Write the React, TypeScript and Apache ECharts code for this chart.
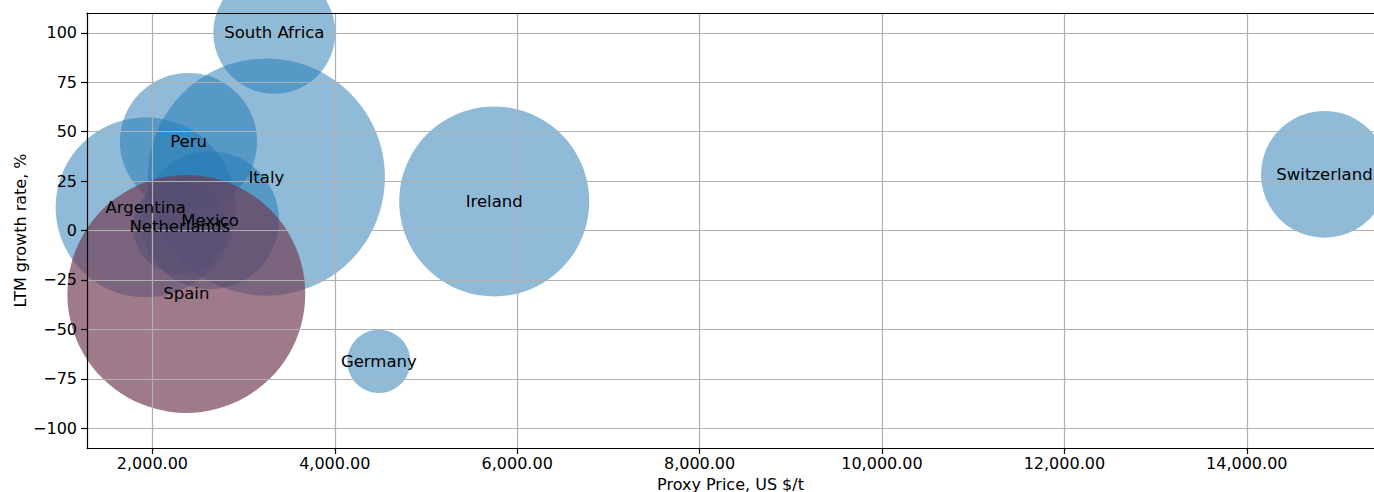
import React, { useEffect, useRef } from "react";
import * as echarts from "echarts";

const countries = ["Argentina", "Germany", "Ireland", "Italy", "Mexico", "Netherlands", "Peru", "South Africa", "Spain", "Switzerland"];
const proxyPrice = [1926, 4483, 5748, 3250, 2632, 2300, 2396, 3337, 2372, 14852];
const growthRate = [11.7, -66.2, 14.7, 27.0, 5.2, 1.8, 45.0, 100.0, -32.1, 28.4];
const bubbleVolume = [32400, 4000, 36100, 56200, 19000, 8800, 18800, 14900, 56600, 16100];
const highlighted = ["Spain"];

const xTicks = [2000, 4000, 6000, 8000, 10000, 12000, 14000];
const yTicks = [-100, -75, -50, -25, 0, 25, 50, 75, 100];

const FONT = "DejaVu Sans";
const BLUE = "rgba(31,119,180,0.5)";
const MAROON = "rgba(112,57,80,0.67)";

export default function App() {
  const ref = useRef<HTMLDivElement>(null);
  useEffect(() => {
    if (!ref.current) return;
    const chart = echarts.init(ref.current, undefined, { renderer: "svg" });
    const data = countries.map((c, i) => ({
      name: c,
      value: [proxyPrice[i], growthRate[i], bubbleVolume[i]],
      itemStyle: { color: highlighted.includes(c) ? MAROON : BLUE, opacity: 1 },
    }));
    const fmtX = (v: number) =>
      v.toLocaleString("en-US", { minimumFractionDigits: 2, maximumFractionDigits: 2 });
    const fmtY = (v: number) => (v < 0 ? "\u2212" + Math.abs(v) : String(v));
    chart.setOption({
      animation: false,
      grid: { left: 87, right: 0, top: 13, bottom: 44, containLabel: false, outerBoundsMode: "none" },
      xAxis: [
        {
          type: "value",
          min: 1283,
          max: 15395,
          z: 3,
          name: "Proxy Price, US $/t",
          nameLocation: "middle",
          nameGap: 28,
          nameMoveOverlap: false,
          nameTextStyle: { fontFamily: FONT, fontSize: 16, color: "#000" },
          axisLine: { show: true, onZero: false, lineStyle: { color: "#000", width: 1.2 } },
          axisTick: { show: true, length: 6, customValues: xTicks, lineStyle: { color: "#000", width: 1.2 } },
          axisLabel: { customValues: xTicks, formatter: fmtX, fontFamily: FONT, fontSize: 16, color: "#000", margin: 7 },
          splitLine: { show: true, lineStyle: { color: "#b0b0b0", width: 1.2 } },
        },
        {
          type: "value",
          position: "top",
          min: 1283,
          max: 15395,
          z: 3,
          axisLine: { show: true, onZero: false, lineStyle: { color: "#000", width: 1.2 } },
          axisTick: { show: false },
          axisLabel: { show: false },
          splitLine: { show: false },
        },
      ],
      yAxis: {
        type: "value",
        min: -110,
        max: 110,
        z: 3,
        name: "LTM growth rate, %",
        nameLocation: "middle",
        nameGap: 59,
        nameMoveOverlap: false,
        nameTextStyle: { fontFamily: FONT, fontSize: 16, color: "#000" },
        axisLine: { show: true, onZero: false, lineStyle: { color: "#000", width: 1.2 } },
        axisTick: { show: true, length: 6, customValues: yTicks, lineStyle: { color: "#000", width: 1.2 } },
        axisLabel: { customValues: yTicks, formatter: fmtY, fontFamily: FONT, fontSize: 16, color: "#000", margin: 10 },
        splitLine: { show: true, lineStyle: { color: "#b0b0b0", width: 1.2 } },
      },
      series: [
        {
          type: "scatter",
          z: 1,
          clip: true,
          data,
          symbolSize: (v: number[]) => Math.sqrt(v[2]),
          itemStyle: { opacity: 1 },
          emphasis: { disabled: true },
        },
        {
          type: "scatter",
          z: 5,
          clip: true,
          data: data.map((d) => ({ name: d.name, value: d.value })),
          symbolSize: 1,
          itemStyle: { color: "rgba(0,0,0,0)", opacity: 1 },
          label: {
            show: true,
            position: "inside",
            formatter: (p: any) => p.name,
            fontFamily: FONT,
            fontSize: 16.5,
            color: "#000",
            opacity: 1,
          },
          emphasis: { disabled: true },
        },
      ],
    });
    return () => chart.dispose();
  }, []);
  return (
    <div
      ref={ref}
      style={{ position: "absolute", left: 0, top: 0, width: 1374, height: 492, background: "#fff" }}
    />
  );
}
